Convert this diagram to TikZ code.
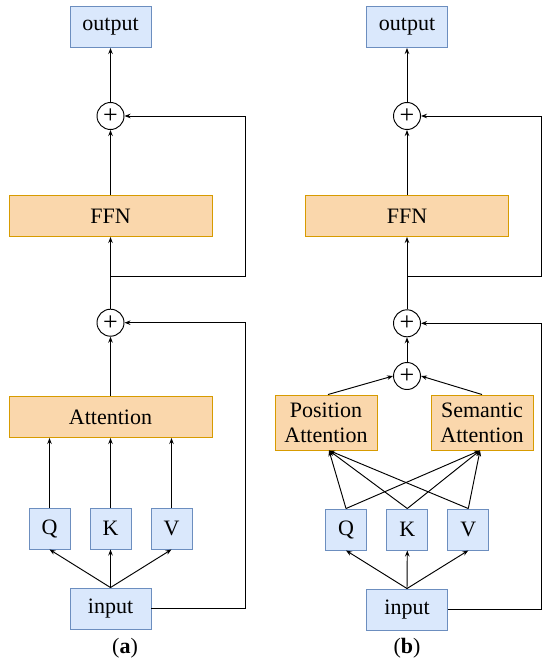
\documentclass[tikz,border=0pt]{standalone}
\usepackage{fontspec}
\setmainfont{Liberation Serif}
\usepackage{xcolor}
\usetikzlibrary{arrows.meta,positioning,calc}

\definecolor{bluefill}{HTML}{DAE8FC}
\definecolor{blueline}{HTML}{6C8EBF}
\definecolor{orangefill}{HTML}{FAD7AC}
\definecolor{orangeline}{HTML}{D79B00}

\begin{document}
\begin{tikzpicture}[x=1pt,y=-1pt,line width=0.95pt,
  font=\fontsize{22}{25}\selectfont,
  >={Stealth[length=6pt,width=4.5pt]},
  bluebox/.style={draw=blueline,fill=bluefill,minimum width=81pt,minimum height=41pt,inner sep=0pt},
  qkvbox/.style={bluebox,minimum width=41pt},
  orangebox/.style={draw=orangeline,fill=orangefill,minimum width=203pt,minimum height=41pt,inner sep=0pt},
  attbox/.style={orangebox,minimum width=102pt,minimum height=55pt,align=center,font=\fontsize{22}{25}\selectfont},
  addop/.style={draw,circle,minimum size=27pt,inner sep=0pt,font=\fontsize{26}{26}\selectfont}]
\useasboundingbox (0,0) rectangle (550,666);

% (a) plain attention block
\node[bluebox] (outa) at (110.5,27) {output};
\node[addop] (adda2) at (110.5,116) {+};
\node[orangebox] (ffna) at (110.5,216) {FFN};
\node[addop] (adda1) at (110.5,322.7) {+};
\node[orangebox] (atta) at (110.5,417) {Attention};
\node[qkvbox] (qa) at (49.5,528.5) {Q};
\node[qkvbox] (ka) at (110.5,528.5) {K};
\node[qkvbox] (va) at (171.5,528.5) {V};
\node[bluebox] (ina) at (110.5,608.5) {input};
\node (capa) at (125,648) {(\textbf{a})};
\coordinate (splita) at (110.5,276);
\coordinate (loopa1) at (245,322.7);
\coordinate (loopa2) at (245,116);

\draw[->] (ina.north) -- (qa.south);
\draw[->] (ina.north) -- (ka.south);
\draw[->] (ina.north) -- (va.south);
\draw[->] (qa.north) -- (qa.north |- atta.south);
\draw[->] (ka.north) -- (atta.south);
\draw[->] (va.north) -- (va.north |- atta.south);
\draw[->] (atta) -- (adda1);
\draw[->] (ina.east) -| (loopa1) -- (adda1.east);
\draw[->] (adda1) -- (ffna);
\draw[->] (splita) -| (loopa2) -- (adda2.east);
\draw[->] (ffna) -- (adda2);
\draw[->] (adda2) -- (outa);

% (b) position + semantic attention
\node[bluebox] (outb) at (407,27) {output};
\node[addop] (addb3) at (407,116) {+};
\node[orangebox] (ffnb) at (407,216) {FFN};
\node[addop] (addb2) at (407,323.3) {+};
\node[addop] (addb1) at (407,376) {+};
\node[attbox] (posatt) at (326,422.5) {Position\\Attention};
\node[attbox] (sematt) at (482,422.5) {Semantic\\Attention};
\node[qkvbox] (qb) at (346,529.5) {Q};
\node[qkvbox] (kb) at (407.3,529.5) {K};
\node[qkvbox] (vb) at (468.3,529.5) {V};
\node[bluebox] (inb) at (407,609.5) {input};
\node (capb) at (407,648) {(\textbf{b})};
\coordinate (splitb) at (407,276);
\coordinate (loopb1) at (541.7,323.3);
\coordinate (loopb2) at (541.7,116);

\draw[->] (inb.north) -- (qb.south);
\draw[->] (inb.north) -- (kb.south);
\draw[->] (inb.north) -- (vb.south);
\foreach \src in {qb,kb,vb} {
  \draw[->] (\src.north) -- ($(posatt.south)+(3,0)$);
  \draw[->] (\src.north) -- ($(sematt.south)+(-2,0)$);
}
\draw[->] ($(posatt.north)+(2,0)$) -- (addb1.west);
\draw[->] (sematt.north) -- (addb1.east);
\draw[->] (addb1) -- (addb2);
\draw[->] (inb.east) -| (loopb1) -- (addb2.east);
\draw[->] (addb2) -- (ffnb);
\draw[->] (splitb) -| (loopb2) -- (addb3.east);
\draw[->] (ffnb) -- (addb3);
\draw[->] (addb3) -- (outb);
\end{tikzpicture}
\end{document}
